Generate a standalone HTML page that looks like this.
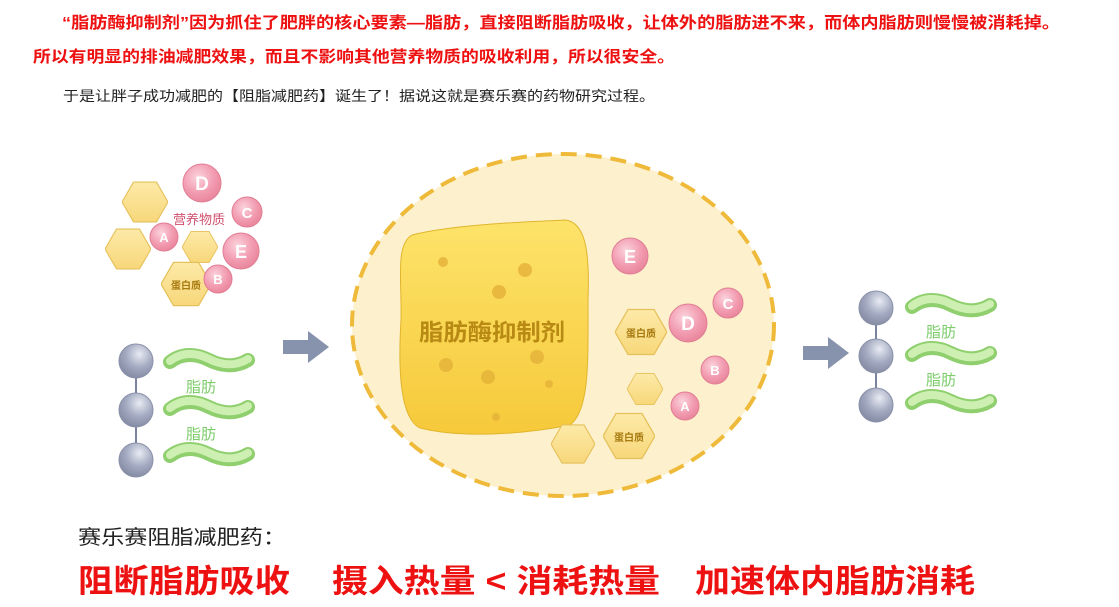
<!DOCTYPE html>
<html><head><meta charset="utf-8">
<style>
html,body{margin:0;padding:0;background:#fff;width:1119px;height:607px;overflow:hidden}
svg{display:block}
text{font-family:"Liberation Sans","Noto Sans CJK SC",sans-serif}
</style></head><body>
<svg width="1119" height="607" viewBox="0 0 1119 607" xmlns="http://www.w3.org/2000/svg">
<defs>
<radialGradient id="pk" cx="0.4" cy="0.35" r="0.7"><stop offset="0" stop-color="#fbd3dc"/><stop offset="0.6" stop-color="#f29bb0"/><stop offset="1" stop-color="#e88399"/></radialGradient>
<radialGradient id="gb" cx="0.6" cy="0.3" r="0.8"><stop offset="0" stop-color="#e8ebf3"/><stop offset="0.5" stop-color="#a2a9c0"/><stop offset="1" stop-color="#7c839c"/></radialGradient>
<linearGradient id="hx" x1="0" y1="0" x2="0" y2="1"><stop offset="0" stop-color="#fdeaa8"/><stop offset="1" stop-color="#f7d77a"/></linearGradient>
<linearGradient id="bl" x1="0" y1="0" x2="0" y2="1"><stop offset="0" stop-color="#fde36a"/><stop offset="1" stop-color="#f6c93a"/></linearGradient>
<symbol id="hex" viewBox="-1 -1 2 2"><polygon points="-1,0 -0.5,-0.866 0.5,-0.866 1,0 0.5,0.866 -0.5,0.866" fill="url(#hx)" stroke="#e6c05a" stroke-width="0.05"/></symbol>
<symbol id="worm" viewBox="0 -4 92 28" overflow="visible"><path d="M7,10 C20,0 34,2 46,8 C58,14 72,16 85,8" fill="none" stroke="#8fcf6e" stroke-width="14" stroke-linecap="round"/><path d="M7,9 C20,-1 34,1 46,7 C58,13 72,15 85,7" fill="none" stroke="#cdf0b2" stroke-width="8" stroke-linecap="round"/></symbol>
</defs>

<text x="62" y="28" font-size="16" font-weight="bold" fill="#ee1111" textLength="998" lengthAdjust="spacingAndGlyphs">“脂肪酶抑制剂”因为抓住了肥胖的核心要素—脂肪，直接阻断脂肪吸收，让体外的脂肪进不来，而体内脂肪则慢慢被消耗掉。</text>
<text x="33" y="62" font-size="16" font-weight="bold" fill="#ee1111" textLength="642" lengthAdjust="spacingAndGlyphs">所以有明显的排油减肥效果，而且不影响其他营养物质的吸收利用，所以很安全。</text>
<text x="63" y="101" font-size="14" fill="#222" textLength="592" lengthAdjust="spacingAndGlyphs">于是让胖子成功减肥的【阻脂减肥药】诞生了！据说这就是赛乐赛的药物研究过程。</text>

<use href="#hex" x="122" y="179" width="46" height="46"/>
<use href="#hex" x="105" y="226" width="46" height="46"/>
<use href="#hex" x="182" y="229" width="36" height="36"/>
<use href="#hex" x="161" y="259" width="50" height="50"/>
<text x="186" y="289" font-size="10" font-weight="bold" fill="#a87a10" text-anchor="middle">蛋白质</text>
<g font-weight="bold" fill="#fff" text-anchor="middle">
<circle cx="202" cy="183" r="19" fill="url(#pk)" stroke="#e07e95"/><text x="202" y="190" font-size="19">D</text>
<circle cx="247" cy="212" r="15" fill="url(#pk)" stroke="#e07e95"/><text x="247" y="218" font-size="15">C</text>
<circle cx="164" cy="237" r="14" fill="url(#pk)" stroke="#e07e95"/><text x="164" y="242" font-size="13">A</text>
<circle cx="241" cy="251" r="18" fill="url(#pk)" stroke="#e07e95"/><text x="241" y="258" font-size="18">E</text>
<circle cx="218" cy="279" r="14" fill="url(#pk)" stroke="#e07e95"/><text x="218" y="284" font-size="13">B</text>
</g>
<text x="199" y="224" font-size="13" fill="#d0506e" text-anchor="middle">营养物质</text>

<line x1="136" y1="360" x2="136" y2="460" stroke="#7c839c" stroke-width="2"/>
<circle cx="136" cy="361" r="17" fill="url(#gb)" stroke="#8a90a8"/>
<circle cx="136" cy="410" r="17" fill="url(#gb)" stroke="#8a90a8"/>
<circle cx="136" cy="460" r="17" fill="url(#gb)" stroke="#8a90a8"/>
<use href="#worm" x="163" y="348" width="92" height="28"/>
<use href="#worm" x="163" y="395" width="92" height="28"/>
<use href="#worm" x="163" y="442" width="92" height="28"/>
<text x="201" y="392" font-size="15" fill="#7ccc6a" text-anchor="middle">脂肪</text>
<text x="201" y="439" font-size="15" fill="#7ccc6a" text-anchor="middle">脂肪</text>

<polygon points="283,340 308,340 308,331 329,347 308,363 308,354 283,354" fill="#8792ad"/>
<polygon points="803,346 828,346 828,337 849,353 828,369 828,360 803,360" fill="#8792ad"/>

<ellipse cx="563" cy="325" rx="211" ry="171" fill="#fdf1cd" stroke="#efba3a" stroke-width="4" stroke-dasharray="16 9"/>
<path d="M412,235 C450,225 520,222 565,220 C585,222 590,250 588,300 C588,360 590,410 570,425 C520,435 460,438 420,428 C400,418 398,370 401,320 C402,280 395,245 412,235 Z" fill="url(#bl)" stroke="#e1b52c" stroke-width="1"/>
<g fill="#e6b43a" opacity="0.85">
<circle cx="443" cy="262" r="5"/><circle cx="525" cy="270" r="7"/><circle cx="499" cy="292" r="7"/>
<circle cx="446" cy="365" r="7"/><circle cx="537" cy="357" r="7"/><circle cx="488" cy="377" r="7"/>
<circle cx="549" cy="384" r="4"/><circle cx="496" cy="417" r="4"/>
</g>
<text x="492" y="340" font-size="23" font-weight="bold" fill="#b88a14" text-anchor="middle" textLength="146" lengthAdjust="spacingAndGlyphs">脂肪酶抑制剂</text>

<use href="#hex" x="615" y="306" width="52" height="52"/>
<text x="641" y="337" font-size="10" font-weight="bold" fill="#a87a10" text-anchor="middle">蛋白质</text>
<use href="#hex" x="627" y="371" width="36" height="36"/>
<use href="#hex" x="551" y="422" width="44" height="44"/>
<use href="#hex" x="603" y="410" width="52" height="52"/>
<text x="629" y="441" font-size="10" font-weight="bold" fill="#a87a10" text-anchor="middle">蛋白质</text>
<g font-weight="bold" fill="#fff" text-anchor="middle">
<circle cx="630" cy="256" r="18" fill="url(#pk)" stroke="#e07e95"/><text x="630" y="263" font-size="18">E</text>
<circle cx="688" cy="323" r="19" fill="url(#pk)" stroke="#e07e95"/><text x="688" y="330" font-size="19">D</text>
<circle cx="728" cy="303" r="15" fill="url(#pk)" stroke="#e07e95"/><text x="728" y="309" font-size="15">C</text>
<circle cx="715" cy="370" r="14" fill="url(#pk)" stroke="#e07e95"/><text x="715" y="375" font-size="13">B</text>
<circle cx="685" cy="406" r="14" fill="url(#pk)" stroke="#e07e95"/><text x="685" y="411" font-size="13">A</text>
</g>

<line x1="876" y1="307" x2="876" y2="405" stroke="#7c839c" stroke-width="2"/>
<circle cx="876" cy="308" r="17" fill="url(#gb)" stroke="#8a90a8"/>
<circle cx="876" cy="356" r="17" fill="url(#gb)" stroke="#8a90a8"/>
<circle cx="876" cy="405" r="17" fill="url(#gb)" stroke="#8a90a8"/>
<use href="#worm" x="905" y="293" width="92" height="28"/>
<use href="#worm" x="905" y="341" width="92" height="28"/>
<use href="#worm" x="905" y="389" width="92" height="28"/>
<text x="941" y="337" font-size="15" fill="#7ccc6a" text-anchor="middle">脂肪</text>
<text x="941" y="385" font-size="15" fill="#7ccc6a" text-anchor="middle">脂肪</text>

<text x="78" y="544" font-size="20" fill="#222" textLength="208" lengthAdjust="spacingAndGlyphs">赛乐赛阻脂减肥药：</text>
<g font-size="32" font-weight="bold" fill="#ee1111">
<text x="78" y="592" textLength="212" lengthAdjust="spacingAndGlyphs">阻断脂肪吸收</text>
<text x="332" y="592" textLength="328" lengthAdjust="spacingAndGlyphs">摄入热量 &lt; 消耗热量</text>
<text x="695" y="592" textLength="280" lengthAdjust="spacingAndGlyphs">加速体内脂肪消耗</text>
</g>
</svg>
</body></html>
